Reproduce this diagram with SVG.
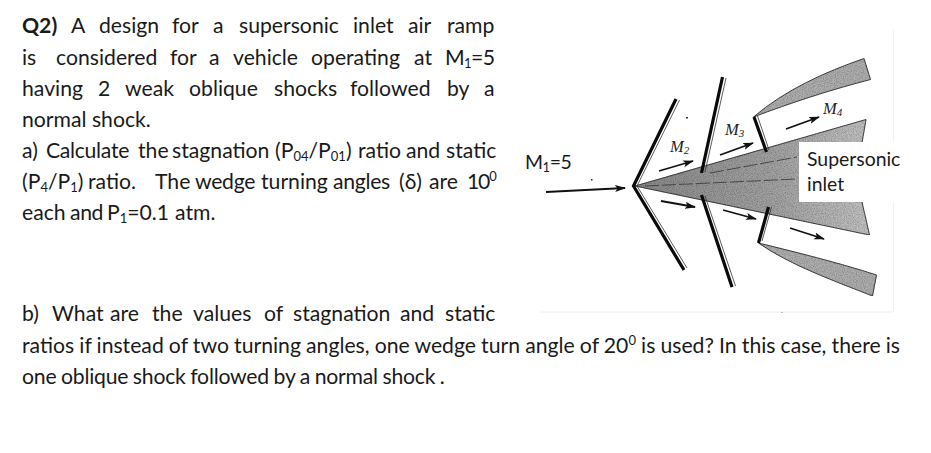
<svg xmlns="http://www.w3.org/2000/svg" width="931" height="453" viewBox="0 0 931 453">
<style>
.t{font-family:Lato,"Liberation Sans",sans-serif;font-size:21.2px;fill:#1a1a1a}
.b{font-weight:700}
.l{font-family:Lato,"Liberation Sans",sans-serif;font-size:19.400px;fill:#1a1a1a}
.m{font-family:"Liberation Serif",serif;font-style:italic;font-size:16.500px;fill:#222}
.s{font-size:13px}
.shock{stroke:#0a0a0a;stroke-width:3.2;fill:none}
.thin{stroke:#333;stroke-width:.8;fill:none}
.arr{stroke:#111;stroke-width:1.8;fill:none;marker-end:url(#ah)}
.solid{fill:#b0b0b0;stroke:#222;stroke-width:.8;filter:url(#grain)}
</style>
<defs>
<marker id="ah" markerUnits="userSpaceOnUse" markerWidth="12" markerHeight="8" refX="10" refY="4" orient="auto"><path d="M0 .5L11 4L0 7.5L2.5 4Z" fill="#111"/></marker>
<filter id="grain" x="0" y="0" width="1" height="1"><feTurbulence type="fractalNoise" baseFrequency=".9" numOctaves="2" seed="4"/><feColorMatrix values="0 0 0 0 0 0 0 0 0 0 0 0 0 0 0 .9 0 0 0 -.3"/><feComposite in2="SourceGraphic" operator="in" result="n"/><feMerge><feMergeNode in="SourceGraphic"/><feMergeNode in="n"/></feMerge></filter>
<linearGradient id="wedgefill" gradientUnits="userSpaceOnUse" x1="635" y1="185" x2="870" y2="185"><stop offset="0" stop-color="#8a8a8a"/><stop offset=".6" stop-color="#a4a4a4"/><stop offset="1" stop-color="#c4c4c4"/></linearGradient>
</defs>
<rect width="931" height="453" fill="#fff"/>
<g id="question-a">
<text class="t" y="33"><tspan class="b" x="22">Q2)</tspan><tspan x="71">A</tspan><tspan x="99">design</tspan><tspan x="172">for</tspan><tspan x="213">a</tspan><tspan x="239">supersonic</tspan><tspan x="353">inlet</tspan><tspan x="408">air</tspan><tspan x="447">ramp</tspan></text>
<text class="t" y="64.500"><tspan x="22">is</tspan><tspan x="56">considered</tspan><tspan x="170">for</tspan><tspan x="209">a</tspan><tspan x="233">vehicle</tspan><tspan x="311">operating</tspan><tspan x="414">at</tspan><tspan x="445" letter-spacing="-.6">M</tspan><tspan class="s" dy="3" letter-spacing="-.6">1</tspan><tspan dy="-3" letter-spacing="-.6">=5</tspan></text>
<text class="t" y="96"><tspan x="22">having</tspan><tspan x="98">2</tspan><tspan x="125">weak</tspan><tspan x="189">oblique</tspan><tspan x="274">shocks</tspan><tspan x="350">followed</tspan><tspan x="447">by</tspan><tspan x="484">a</tspan></text>
<text class="t" x="22" y="127">normal shock.</text>
<text class="t" y="157.500"><tspan x="22">a)</tspan><tspan x="46" letter-spacing="-.3">Calculate</tspan><tspan x="138">the</tspan><tspan x="172">stagnation</tspan><tspan x="275">(P</tspan><tspan class="s" dy="3">04</tspan><tspan dy="-3">/P</tspan><tspan class="s" dy="3">01</tspan><tspan dy="-3">)</tspan><tspan x="358">ratio</tspan><tspan x="406">and</tspan><tspan x="446">static</tspan></text>
<text class="t" y="189"><tspan x="22">(P</tspan><tspan class="s" dy="3">4</tspan><tspan dy="-3">/P</tspan><tspan class="s" dy="3">1</tspan><tspan dy="-3">)</tspan><tspan x="88">ratio.</tspan><tspan x="155">The</tspan><tspan x="195" letter-spacing="-.3">wedge</tspan><tspan x="261">turning</tspan><tspan x="333" letter-spacing="-.3">angles</tspan><tspan x="399">(δ)</tspan><tspan x="429">are</tspan><tspan x="467" letter-spacing="-1.2">10</tspan><tspan class="s" dy="-8">0</tspan></text>
<text class="t" y="220"><tspan x="22">each</tspan><tspan x="70" letter-spacing="-.4">and</tspan><tspan x="107">P</tspan><tspan class="s" dy="3">1</tspan><tspan dy="-3">=0.1</tspan><tspan x="175">atm.</tspan></text>
</g>
<g id="question-b">
<text class="t" y="321"><tspan x="22">b)</tspan><tspan x="52">What</tspan><tspan x="110">are</tspan><tspan x="152">the</tspan><tspan x="193">values</tspan><tspan x="264">of</tspan><tspan x="293">stagnation</tspan><tspan x="400">and</tspan><tspan x="445">static</tspan></text>
<text class="t" y="352.500" x="22" word-spacing="-.3">ratios if instead of two turning angles, one wedge turn angle of 20<tspan class="s" dy="-8">0</tspan><tspan dy="8"> is used? In this case, there is</tspan></text>
<text class="t" x="22" y="384" word-spacing="-.6" letter-spacing="-.22">one oblique shock followed by a normal shock .</text>
</g>
<g id="figure-frame" stroke="#f0f0f0" fill="none"><path d="M893.500 30V312H540"/></g>
<g id="cowl-upper"><path class="solid" d="M753.500 117C785 90 825 72 864 58.500L870.500 79.500C830 90 790 103 753.500 117Z"/></g>
<g id="cowl-lower"><path class="solid" d="M758.500 243C795 252 840 263 876.500 275L872.500 296C832 280 790 265 758.500 243Z"/></g>
<g id="wedge"><path class="solid" style="fill:url(#wedgefill)" d="M635 186L866 119.500L859 160L862 202L869.500 235Z"/></g>
<g id="shock-1"><path class="shock" d="M676 99L633.500 186L684 270"/><path class="thin" d="M679.500 100L637 186L687 268"/></g>
<g id="shock-2"><path class="shock" d="M722.500 77L701.500 173M701.500 195L732 287"/><path class="thin" d="M726 78L705 172M705 196L735.500 286"/></g>
<g id="shock-3"><path class="shock" d="M754 117L766.500 152M768.500 207L758.500 243"/><path class="thin" d="M757.500 116L769 150M771.500 207L762 241"/></g>
<g id="connectors">
<path class="arr" d="M546 192L625 188"/>
<path class="arr" d="M659 171L693 161"/>
<path class="arr" d="M720 155L753 143"/>
<path class="arr" d="M786 129L819 117"/>
<path class="arr" d="M661 201L695 207"/>
<path class="arr" d="M723 210L756 219"/>
<path class="arr" d="M790 228L824 239"/>
<path d="M710 173L797 157M645 186L797 179" stroke="#333" stroke-width=".8" stroke-dasharray="14 3" fill="none"/>
</g>
<g id="specks" fill="#333"><rect x="686" y="117" width="2" height="1.500"/><rect x="591" y="179" width="1.500" height="1.500"/><rect x="781" y="312" width="2" height="1" fill="#bbb"/></g>
<g id="label-box"><rect x="799" y="142" width="103" height="60" fill="#fff"/>
<text class="l" x="807" y="166">Supersonic</text><text class="l" x="807" y="191">inlet</text></g>
<g id="label-m1"><text class="l" x="525" y="169" letter-spacing="-.4">M<tspan font-size="13" dy="3">1</tspan><tspan dy="-3">=5</tspan></text></g>
<g id="label-m2"><text class="m" x="670" y="152">M<tspan font-size="11" dy="2">2</tspan></text></g>
<g id="label-m3"><text class="m" x="725" y="135">M<tspan font-size="11" dy="2">3</tspan></text></g>
<g id="label-m4"><text class="m" x="823" y="114">M<tspan font-size="11" dy="2">4</tspan></text></g>
</svg>
